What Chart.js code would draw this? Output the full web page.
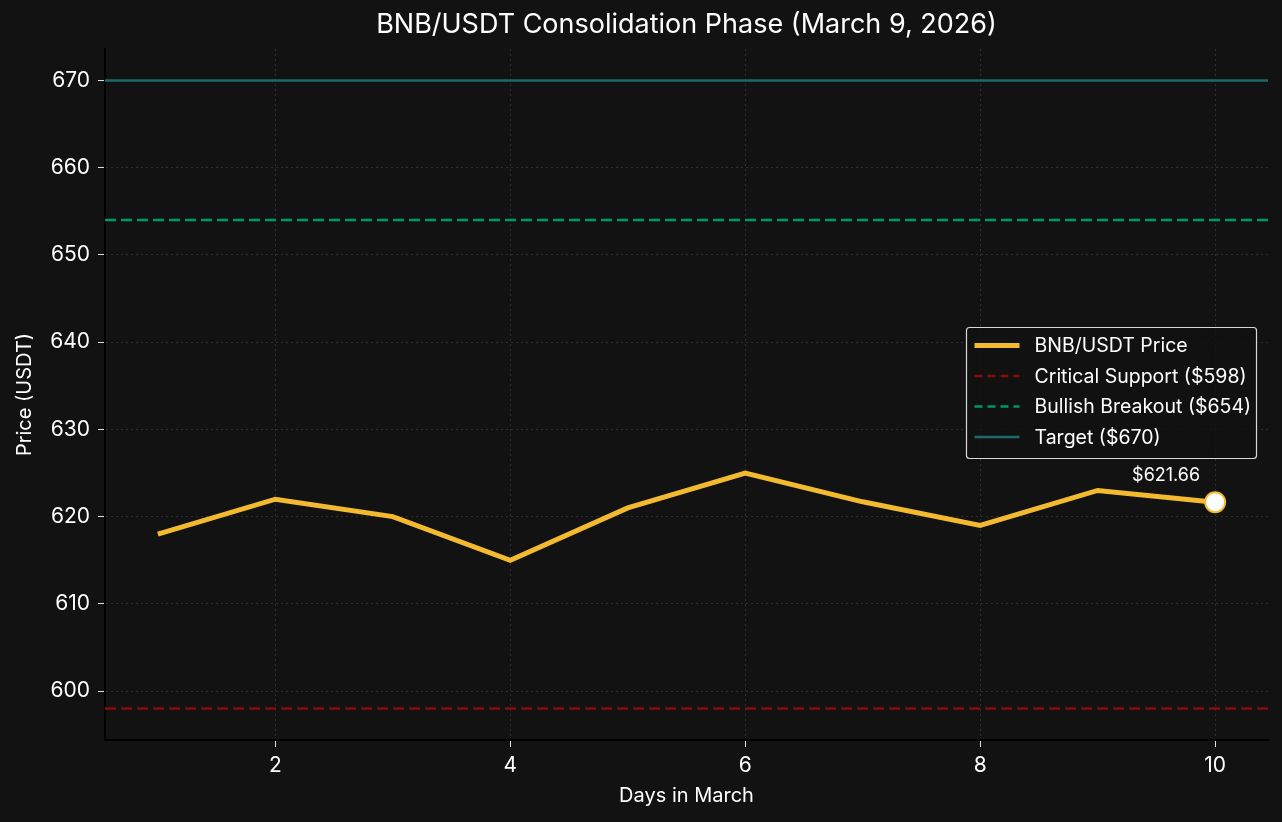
<!DOCTYPE html>
<html>
<head>
<meta charset="utf-8">
<style>
  html, body { margin: 0; padding: 0; background: #121212; }
  #wrap { width: 1282px; height: 822px; }
</style>
<script src="https://cdn.jsdelivr.net/npm/chart.js@4.4.0/dist/chart.umd.min.js"></script>
</head>
<body>
<div id="wrap"><canvas id="c" width="1282" height="822"></canvas></div>
<script>
// ── Data ─────────────────────────────────────────────────────────────
var days = [1, 2, 3, 4, 5, 6, 7, 8, 9, 10];
var prices = [618, 622, 620, 615, 621, 625, 621.7, 619, 623, 621.66];
var xTicks = [2, 4, 6, 8, 10];
var yTicks = [600, 610, 620, 630, 640, 650, 660, 670];
var supportLevel = 598;
var breakoutLevel = 654;
var targetLevel = 670;
var lastLabel = '$621.66';

var X_MIN = 0.55, X_MAX = 10.45;
var Y_MIN = 594.4, Y_MAX = 673.6;

var FONT = 'Inter, "Noto Sans", sans-serif';

function levelLine(v) {
  return [{ x: X_MIN, y: v }, { x: X_MAX, y: v }];
}

var legendItems = [
  { text: 'BNB/USDT Price', color: '#f3ba2f', width: 5, dash: [] },
  { text: 'Critical Support ($598)', color: '#8b0a0a', width: 2.5, dash: [8, 5] },
  { text: 'Bullish Breakout ($654)', color: '#00956a', width: 2.5, dash: [8, 5] },
  { text: 'Target ($670)', color: '#1d6b68', width: 2.5, dash: [] }
];

// ── Plugin: title, axis titles, legend box, last-price label ─────────
var decorPlugin = {
  id: 'decor',
  beforeDraw: function (chart) {
    var ctx = chart.ctx;
    ctx.save();
    ctx.fillStyle = '#121212';
    ctx.fillRect(0, 0, chart.width, chart.height);
    ctx.restore();
  },
  afterDraw: function (chart) {
    var ctx = chart.ctx;
    var area = chart.chartArea;
    var xs = chart.scales.x, ys = chart.scales.y;
    ctx.save();
    ctx.fillStyle = '#ffffff';
    ctx.textAlign = 'center';
    ctx.textBaseline = 'middle';
    ctx.font = '27px ' + FONT;
    ctx.fillText('BNB/USDT Consolidation Phase (March 9, 2026)', (area.left + area.right) / 2, 25);
    ctx.font = '20px ' + FONT;
    ctx.fillText('Days in March', (area.left + area.right) / 2, 796);
    ctx.save();
    ctx.translate(25, (area.top + area.bottom) / 2);
    ctx.rotate(-Math.PI / 2);
    ctx.fillText('Price (USDT)', 0, 0);
    ctx.restore();

    // last price label
    var lx = xs.getPixelForValue(days[days.length - 1]);
    var ly = ys.getPixelForValue(prices[prices.length - 1]);
    ctx.font = '18px ' + FONT;
    ctx.fillText(lastLabel, lx - 49, ly - 27);

    // legend
    var bx = 966.5, by = 327.5, bw = 290, bh = 131;
    ctx.fillStyle = 'rgba(18,18,18,0.85)';
    ctx.strokeStyle = '#d8d8d8';
    ctx.lineWidth = 1.2;
    ctx.beginPath();
    if (ctx.roundRect) ctx.roundRect(bx, by, bw, bh, 3); else ctx.rect(bx, by, bw, bh);
    ctx.fill();
    ctx.stroke();
    ctx.textAlign = 'left';
    ctx.font = '19.5px ' + FONT;
    legendItems.forEach(function (it, i) {
      var y = by + 18 + i * 30.5;
      ctx.strokeStyle = it.color;
      ctx.lineWidth = it.width;
      ctx.setLineDash(it.dash);
      ctx.beginPath();
      ctx.moveTo(bx + 8, y);
      ctx.lineTo(bx + 53, y);
      ctx.stroke();
      ctx.setLineDash([]);
      ctx.fillStyle = '#ffffff';
      ctx.fillText(it.text, bx + 68, y + 1);
    });
    ctx.restore();
  }
};

var pointRadii = days.map(function (d, i) { return i === days.length - 1 ? 10 : 0; });

function gridOpts() {
  return {
    color: 'rgba(255,255,255,0.12)',
    lineWidth: 1,
    tickColor: '#e0e0e0',
    tickLength: 7,
    tickBorderDash: []
  };
}

var config = {
  type: 'line',
  data: {
    datasets: [
      {
        label: 'Critical Support ($598)',
        data: levelLine(supportLevel),
        borderColor: '#8b0a0a',
        borderWidth: 2.5,
        borderDash: [11, 5],
        pointRadius: 0,
        order: 3
      },
      {
        label: 'Bullish Breakout ($654)',
        data: levelLine(breakoutLevel),
        borderColor: '#00956a',
        borderWidth: 2.5,
        borderDash: [11, 5],
        pointRadius: 0,
        order: 3
      },
      {
        label: 'Target ($670)',
        data: levelLine(targetLevel),
        borderColor: '#1d6b68',
        borderWidth: 2.5,
        pointRadius: 0,
        order: 3
      },
      {
        label: 'BNB/USDT Price',
        data: days.map(function (d, i) { return { x: d, y: prices[i] }; }),
        borderColor: '#f3ba2f',
        borderWidth: 5,
        pointRadius: pointRadii,
        pointBackgroundColor: '#ffffff',
        pointBorderColor: '#f3ba2f',
        pointBorderWidth: 2,
        tension: 0,
        order: 1
      }
    ]
  },
  options: {
    responsive: false,
    animation: false,
    parsing: false,
    layout: { padding: { top: 49, right: 14, left: 0, bottom: 0 } },
    plugins: {
      legend: { display: false },
      tooltip: { enabled: false },
      title: { display: false }
    },
    scales: {
      x: {
        type: 'linear',
        min: X_MIN,
        max: X_MAX,
        afterBuildTicks: function (scale) {
          scale.ticks = xTicks.map(function (v) { return { value: v }; });
        },
        afterFit: function (scale) { scale.height = 82; },
        ticks: {
          color: '#ffffff',
          font: { family: FONT, size: 21 },
          padding: 6,
          maxRotation: 0,
          callback: function (v) { return String(v); }
        },
        grid: gridOpts(),
        border: { color: '#000000', width: 2, dash: [2, 3] }
      },
      y: {
        min: Y_MIN,
        max: Y_MAX,
        afterBuildTicks: function (scale) {
          scale.ticks = yTicks.map(function (v) { return { value: v }; });
        },
        afterFit: function (scale) { scale.width = 105; },
        ticks: {
          color: '#ffffff',
          font: { family: FONT, size: 21 },
          padding: 8,
          callback: function (v) { return String(v); }
        },
        grid: gridOpts(),
        border: { color: '#000000', width: 2, dash: [2, 3] }
      }
    }
  },
  plugins: [decorPlugin]
};

new Chart(document.getElementById('c'), config);
</script>
</body>
</html>
